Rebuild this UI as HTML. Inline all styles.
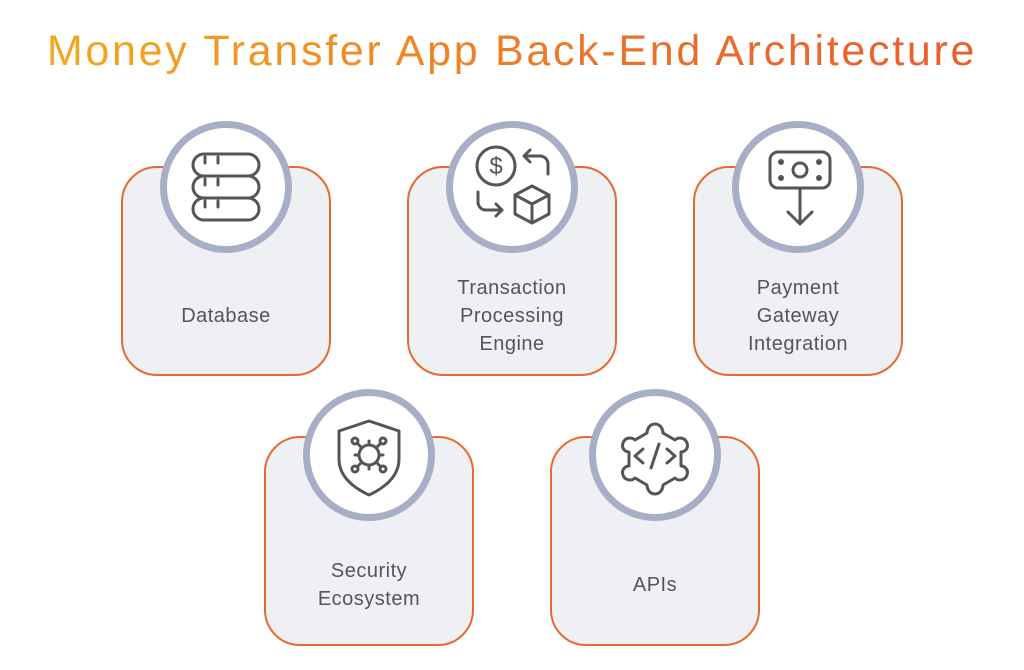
<!DOCTYPE html>
<html><head><style>
body{margin:0;width:1024px;height:670px;background:#fff;position:relative;overflow:hidden;font-family:"Liberation Sans",sans-serif}
h1{position:absolute;left:0;top:27px;width:1024px;margin:0;text-align:center;font-size:43px;font-weight:normal;letter-spacing:2.7px;
background:linear-gradient(90deg,#f3a81f 5%,#ea6a2b 70%,#e85d2d);-webkit-background-clip:text;background-clip:text;color:transparent}
.card{position:absolute;width:206px;height:206px;border:2px solid #e8692e;border-radius:36px;background:#eff0f4;box-sizing:content-box}
.circ{position:absolute;width:118px;height:118px;border:7px solid #a7aec5;border-radius:50%;background:#fff}
.lbl{position:absolute;width:210px;text-align:center;color:#555;font-size:20px;line-height:28px;letter-spacing:0.5px}
svg{position:absolute;left:0;top:0}
</style></head><body>
<h1>Money Transfer App Back-End Architecture</h1>

<div class="card" style="left:121px;top:166px"></div>
<div class="card" style="left:407px;top:166px"></div>
<div class="card" style="left:693px;top:166px"></div>
<div class="card" style="left:264px;top:436px"></div>
<div class="card" style="left:550px;top:436px"></div>

<div class="circ" style="left:160px;top:121px"></div>
<div class="circ" style="left:446px;top:121px"></div>
<div class="circ" style="left:732px;top:121px"></div>
<div class="circ" style="left:303px;top:389px"></div>
<div class="circ" style="left:589px;top:389px"></div>

<div class="lbl" style="left:121px;top:302px">Database</div>
<div class="lbl" style="left:407px;top:274px">Transaction<br>Processing<br>Engine</div>
<div class="lbl" style="left:693px;top:274px">Payment<br>Gateway<br>Integration</div>
<div class="lbl" style="left:264px;top:557px">Security<br>Ecosystem</div>
<div class="lbl" style="left:550px;top:571px">APIs</div>

<svg width="1024" height="670" fill="none" stroke="#555" stroke-width="3" stroke-linecap="round" stroke-linejoin="round">
<rect x="193" y="154" width="66" height="22" rx="11"/>
<rect x="193" y="176" width="66" height="22" rx="11"/>
<rect x="193" y="198" width="66" height="22" rx="11"/>
<path d="M205 157v6M218 157v6M205 179v6M218 179v6M205 201v6M218 201v6"/>
<circle cx="496" cy="166" r="19"/>
<text x="496" y="174" font-size="24" fill="#555" stroke="none" text-anchor="middle" font-family="Liberation Sans">$</text>
<path d="M530 150l-6 6 6 6M524 156h16a8 8 0 0 1 8 8v10"/>
<path d="M478 192v10a8 8 0 0 0 8 8h16M496 204l6 6-6 6"/>
<path d="M532 186l17 9v19l-17 9-17-9v-19zM515 195l17 9 17-9M532 204v19"/>
<rect x="770" y="152" width="60" height="36" rx="8"/>
<circle cx="800" cy="170" r="7"/>
<path d="M800 188v36M788 212l12 12 12-12"/>
<g fill="#555" stroke="none"><circle cx="781" cy="162" r="3"/><circle cx="819" cy="162" r="3"/><circle cx="781" cy="178" r="3"/><circle cx="819" cy="178" r="3"/></g>
<path d="M369 421l-30 10v28c0 17 13 28 30 36 17-8 30-19 30-36v-28z"/>
<circle cx="369" cy="455" r="10"/>
<path d="M369 441v4M369 465v4M355 455h4M379 455h4M361 447l-4-4M377 447l4-4M361 463l-4 4M377 463l4 4"/>
<circle cx="355" cy="441" r="3"/><circle cx="383" cy="441" r="3"/><circle cx="355" cy="469" r="3"/><circle cx="383" cy="469" r="3"/>
<path d="M655 424c6 0 8 6 8 9l12 7c3-3 10-3 12 3 2 6-3 9-6 9v14c3 0 8 3 6 9-2 6-9 6-12 3l-12 7c0 3-2 9-8 9s-8-6-8-9l-12-7c-3 3-10 3-12-3-2-6 3-9 6-9v-14c-3 0-8-3-6-9 2-6 9-6 12-3l12-7c0-3 2-9 8-9z"/>
<path d="M643 449l-8 7 8 7M667 449l8 7-8 7M659 444l-8 24"/>
</svg>
</body></html>
